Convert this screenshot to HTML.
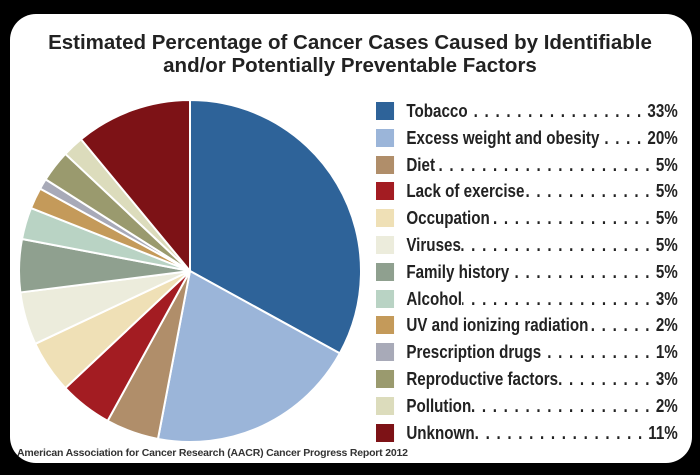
<!DOCTYPE html>
<html><head><meta charset="utf-8">
<style>
body{margin:0;width:700px;height:475px;background:#000;overflow:hidden;font-family:"Liberation Sans",sans-serif}
#panel{position:absolute;left:10px;top:14px;width:682px;height:449px;background:#fff;border-radius:26px}
.title{position:absolute;left:0;width:700px;text-align:center;font-weight:bold;font-size:20.5px;color:#222;line-height:23px;top:31px}
.leg{position:absolute;left:376px;top:0;width:368px;height:475px;font-weight:bold;font-size:18.5px;color:#222;transform:scaleX(0.82);transform-origin:0 0}
.row{position:absolute;left:0;width:368px;height:20px;display:flex;align-items:center}
.sw{width:22px;height:18px;flex:none;margin-right:15px}
.lab{white-space:nowrap;line-height:20px;flex:none}
.dots{flex:1;overflow:hidden;white-space:nowrap;line-height:20px;letter-spacing:1.5px;text-align:right;direction:rtl;padding:0 6px 0 3px}
.pct{flex:none;line-height:20px}
.foot{position:absolute;left:17px;top:447px;font-size:10.5px;font-weight:bold;color:#333;letter-spacing:-0.2px}
</style></head><body>
<div id="panel"></div>
<div class="title">Estimated Percentage of Cancer Cases Caused by Identifiable<br>and/or Potentially Preventable Factors</div>
<svg id="pie" width="700" height="475" style="position:absolute;left:0;top:0"></svg>
<div class="leg" id="leg"></div>
<div class="foot">American Association for Cancer Research (AACR) Cancer Progress Report 2012</div>
<script>
var d=[["Tobacco",33,"#2e6399"],["Excess weight and obesity",20,"#9bb5d9"],["Diet",5,"#b08e6a"],["Lack of exercise",5,"#a31c22"],["Occupation",5,"#efe0b6"],["Viruses",5,"#ececdc"],["Family history",5,"#8fa08f"],["Alcohol",3,"#b9d3c4"],["UV and ionizing radiation",2,"#c49a5a"],["Prescription drugs",1,"#a8aab8"],["Reproductive factors",3,"#9a9a6e"],["Pollution",2,"#dcdcbc"],["Unknown",11,"#7d1216"]];
var cx=190,cy=271,r=171,a=0,s="";
d.forEach(function(e){var a2=a+e[1]/100*2*Math.PI;
var x1=cx+r*Math.sin(a),y1=cy-r*Math.cos(a),x2=cx+r*Math.sin(a2),y2=cy-r*Math.cos(a2);
s+='<path d="M'+cx+' '+cy+'L'+x1.toFixed(2)+' '+y1.toFixed(2)+'A'+r+' '+r+' 0 '+((a2-a)>Math.PI?1:0)+' 1 '+x2.toFixed(2)+' '+y2.toFixed(2)+'Z" fill="'+e[2]+'" stroke="#fff" stroke-width="2" stroke-linejoin="round"/>';a=a2;});
document.getElementById('pie').innerHTML=s;
var dots=new Array(40).join(". ");
var L="";d.forEach(function(e,i){var y=101+i*26.8;
L+='<div class="row" style="top:'+y.toFixed(1)+'px"><div class="sw" style="background:'+e[2]+'"></div><div class="lab">'+e[0]+'</div><div class="dots">'+dots+'</div><div class="pct">'+e[1]+'%</div></div>';});
document.getElementById('leg').innerHTML=L;
</script>
</body></html>
